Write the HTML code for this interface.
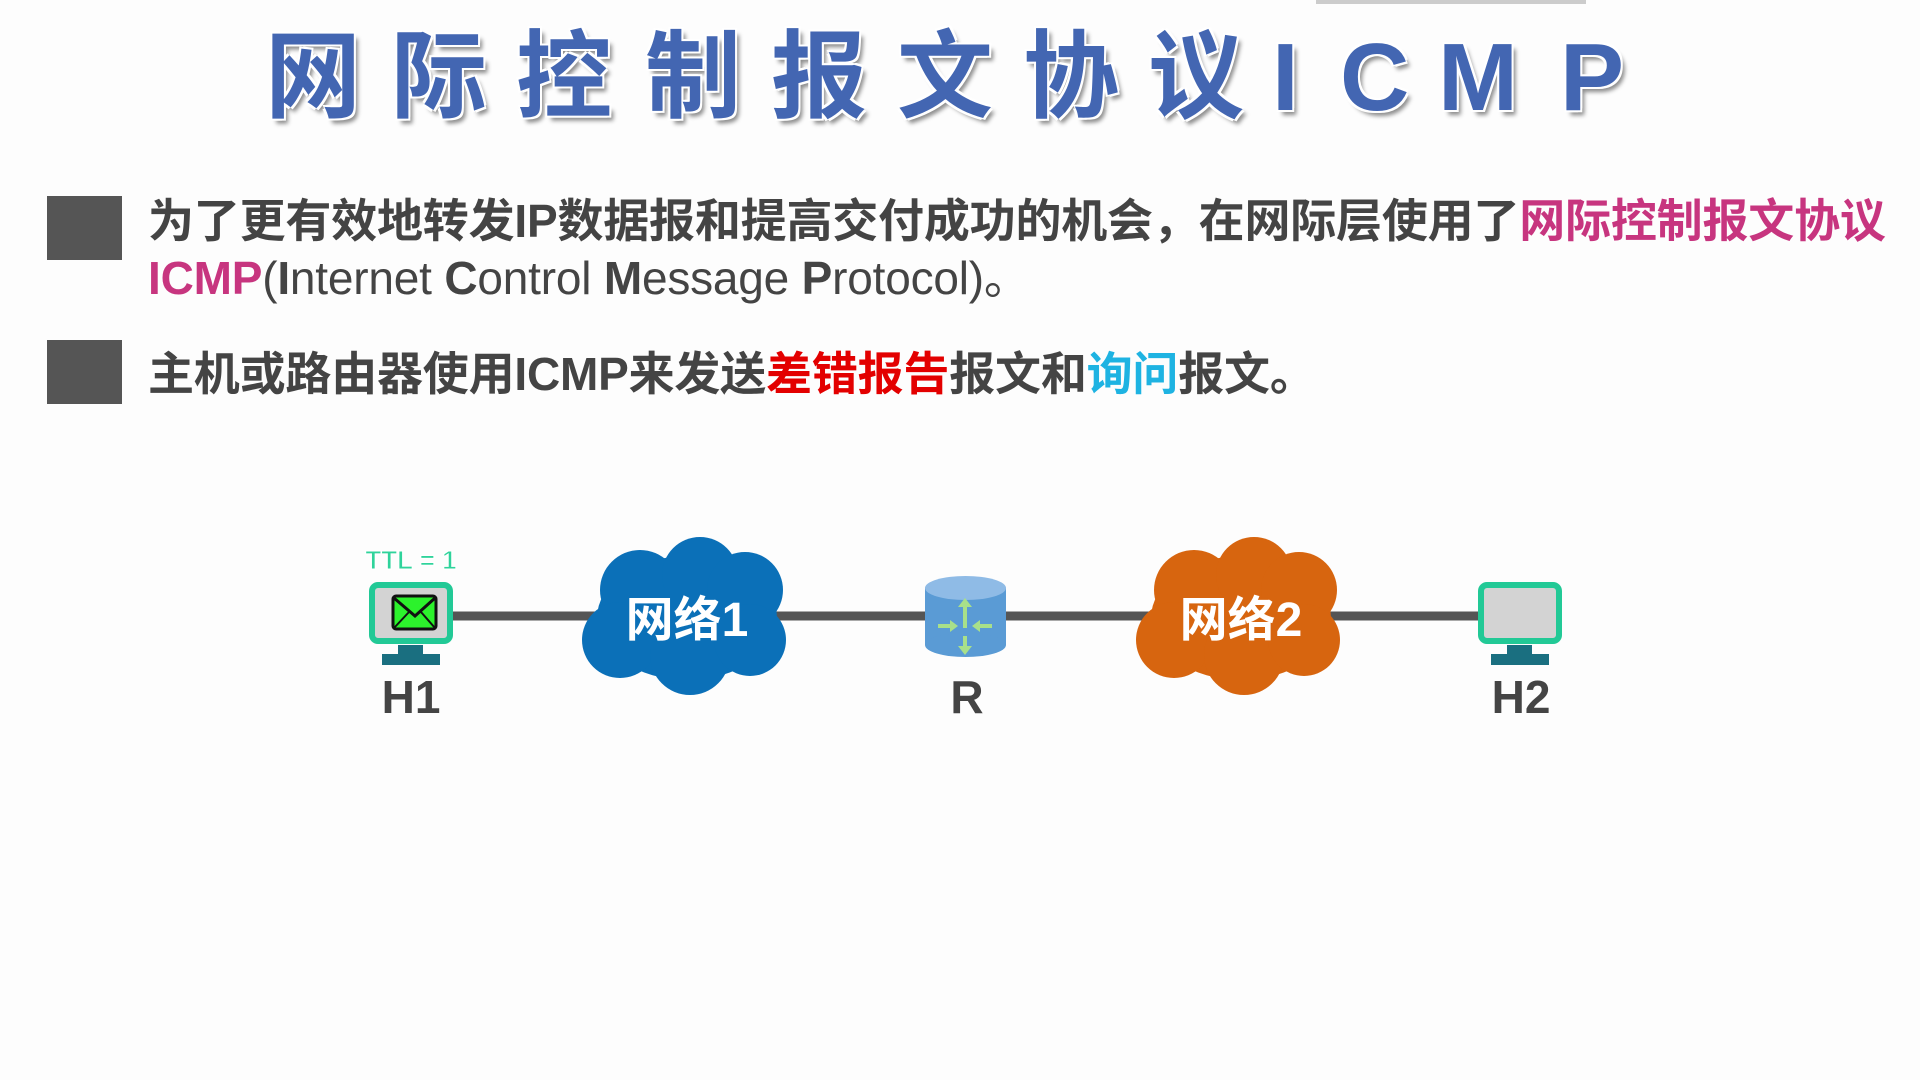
<!DOCTYPE html>
<html><head><meta charset="utf-8"><style>
body{margin:0;width:1920px;height:1080px;background:#fdfdfd;position:relative;overflow:hidden;font-family:"Liberation Sans","Noto Sans CJK SC",sans-serif;}
.t{position:absolute;top:30px;font-size:96px;font-weight:bold;color:#4366b2;line-height:1;text-shadow:-2px -2px 0 #fff,2px -2px 0 #fff,-2px 2px 0 #fff,2px 2px 0 #fff,4px 5px 4px rgba(0,0,0,.45);}
.sq{position:absolute;left:47px;width:75px;height:64px;background:#555;}
.l{position:absolute;left:148px;font-size:46px;font-weight:bold;color:#444;white-space:nowrap;line-height:1;letter-spacing:-0.2px;}
.m{color:#c7357f}.r{color:#e30000}.c{color:#1eb3e2}
.lab{position:absolute;font-size:46px;font-weight:bold;color:#444;transform:translateX(-50%);line-height:1;}
</style></head><body>
<div style="position:absolute;left:1316px;top:0;width:270px;height:4px;background:#ccc"></div>
<div class="t" style="left:265px">网</div><div class="t" style="left:391px">际</div><div class="t" style="left:516px">控</div><div class="t" style="left:645px">制</div><div class="t" style="left:771px">报</div><div class="t" style="left:897px">文</div><div class="t" style="left:1023px">协</div><div class="t" style="left:1148px">议</div>
<div class="t" style="left:1272px">I</div><div class="t" style="left:1340px">C</div><div class="t" style="left:1438px">M</div><div class="t" style="left:1560px">P</div>
<div class="sq" style="top:196px"></div><div class="sq" style="top:340px"></div>
<div class="l" style="top:198px">为了更有效地转发IP数据报和提高交付成功的机会，在网际层使用了<span class="m">网际控制报文协议</span></div>
<div class="l" style="top:255px;font-weight:normal"><b class="m">ICMP</b>(<b>I</b>nternet <b>C</b>ontrol <b>M</b>essage <b>P</b>rotocol)。</div>
<div class="l" style="top:351px">主机或路由器使用ICMP来发送<span class="r">差错报告</span>报文和<span class="c">询问</span>报文。</div>
<svg style="position:absolute;left:0;top:0" width="1920" height="1080">
<line x1="450" y1="616" x2="1480" y2="616" stroke="#555" stroke-width="9"/>
<rect x="372" y="585" width="78" height="56" rx="6" fill="#d3d3d3" stroke="#22c996" stroke-width="6"/>
<rect x="398" y="645" width="25" height="11" fill="#1a6f80"/><rect x="382" y="654" width="58" height="11" fill="#1a6f80"/>
<rect x="393" y="596" width="43" height="33" rx="3" fill="#2cf22c" stroke="#111" stroke-width="3"/>
<polyline points="394,598 415,616 435,598" fill="none" stroke="#111" stroke-width="3"/>
<line x1="394" y1="628" x2="409" y2="612" stroke="#111" stroke-width="2"/><line x1="435" y1="628" x2="421" y2="612" stroke="#111" stroke-width="2"/>
<rect x="1481" y="585" width="78" height="56" rx="6" fill="#d3d3d3" stroke="#22c996" stroke-width="6"/>
<rect x="1507" y="645" width="25" height="11" fill="#1a6f80"/><rect x="1491" y="654" width="58" height="11" fill="#1a6f80"/>
<g fill="#0b70b8">
<ellipse cx="687" cy="618" rx="90" ry="62"/><circle cx="640" cy="590" r="40"/><circle cx="700" cy="575" r="38"/><circle cx="745" cy="590" r="38"/><circle cx="620" cy="640" r="38"/><circle cx="690" cy="655" r="40"/><circle cx="750" cy="640" r="36"/>
</g>
<g fill="#d7650f">
<ellipse cx="1241" cy="618" rx="90" ry="62"/><circle cx="1194" cy="590" r="40"/><circle cx="1254" cy="575" r="38"/><circle cx="1299" cy="590" r="38"/><circle cx="1174" cy="640" r="38"/><circle cx="1244" cy="655" r="40"/><circle cx="1304" cy="640" r="36"/>
</g>
<text x="687" y="636" font-size="48" font-weight="bold" fill="#fff" text-anchor="middle" font-family="Liberation Sans,Noto Sans CJK SC,sans-serif">网络1</text>
<text x="1241" y="636" font-size="48" font-weight="bold" fill="#fff" text-anchor="middle" font-family="Liberation Sans,Noto Sans CJK SC,sans-serif">网络2</text>
<rect x="925" y="588" width="81" height="57" fill="#5a9bd5"/>
<ellipse cx="965.5" cy="645" rx="40.5" ry="12" fill="#5a9bd5"/>
<ellipse cx="965.5" cy="588" rx="40.5" ry="12" fill="#8fbbe6"/>
<g stroke="#a8e08a" stroke-width="4" fill="none">
<line x1="965" y1="628" x2="965" y2="605"/><line x1="965" y1="636" x2="965" y2="648"/>
<line x1="938" y1="626" x2="955" y2="626"/><line x1="975" y1="626" x2="992" y2="626"/>
</g>
<g fill="#a8e08a"><polygon points="958,607 965,598 972,607"/><polygon points="958,646 965,655 972,646"/><polygon points="950,620 958,626 950,632"/><polygon points="980,620 972,626 980,632"/></g>
<text x="411" y="569" font-size="26" font-weight="bold" fill="#2fd39b" text-anchor="middle" stroke="#fff" stroke-width="1" font-family="Liberation Sans,sans-serif">TTL = 1</text>
</svg>
<div class="lab" style="left:411px;top:674px">H1</div>
<div class="lab" style="left:967px;top:674px">R</div>
<div class="lab" style="left:1521px;top:674px">H2</div>
</body></html>
